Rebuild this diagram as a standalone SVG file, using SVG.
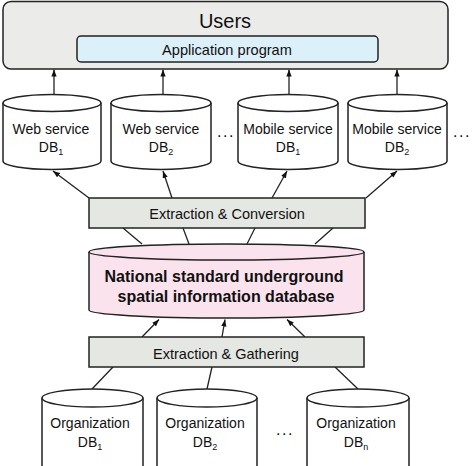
<svg xmlns="http://www.w3.org/2000/svg" width="474" height="466" viewBox="0 0 474 466">
<defs>
<style>
text{font-family:"Liberation Sans",Arial,sans-serif;fill:#111;text-anchor:middle}
.cyl{fill:#fff;stroke:#222;stroke-width:1.5}
.box{stroke:#222;stroke-width:1.5}
.ln{stroke:#222;stroke-width:1.3;fill:none}
.lbl{font-size:14px}
.sub{font-size:9px}
.dots{font-size:16px;letter-spacing:1.5px}
</style>
<marker id="ah" viewBox="0 0 8 6" refX="8" refY="3" markerWidth="7" markerHeight="5.5" markerUnits="userSpaceOnUse" orient="auto">
<path d="M0,0 L8,3 L0,6 z" fill="#111"/>
</marker>
</defs>
<rect width="474" height="466" fill="#fff"/>

<g id="users">
<rect class="box" x="3" y="1.5" width="445" height="67.5" rx="8" fill="#ebebe9"/>
<text x="225" y="28" style="font-size:20px">Users</text>
</g>
<g id="app">
<rect class="box" x="77" y="36" width="301" height="26" rx="4" fill="#dcf0f9"/>
<text x="227" y="55" style="font-size:14.6px">Application program</text>
</g>

<g id="connectors">
<line class="ln" x1="54" y1="101" x2="54" y2="69.5" marker-end="url(#ah)"/>
<line class="ln" x1="163" y1="101" x2="163" y2="69.5" marker-end="url(#ah)"/>
<line class="ln" x1="289" y1="101" x2="289" y2="69.5" marker-end="url(#ah)"/>
<line class="ln" x1="397" y1="101" x2="397" y2="69.5" marker-end="url(#ah)"/>
<line class="ln" x1="89" y1="198" x2="53" y2="171" marker-end="url(#ah)"/>
<line class="ln" x1="172" y1="198" x2="163" y2="171" marker-end="url(#ah)"/>
<line class="ln" x1="272" y1="198" x2="287" y2="171" marker-end="url(#ah)"/>
<line class="ln" x1="366" y1="198" x2="397" y2="171" marker-end="url(#ah)"/>
<line class="ln" x1="123" y1="228" x2="142" y2="244"/>
<line class="ln" x1="183" y1="228" x2="189" y2="244"/>
<line class="ln" x1="255" y1="228" x2="247" y2="244"/>
<line class="ln" x1="333" y1="228" x2="315" y2="244"/>
<line class="ln" x1="142" y1="337" x2="159" y2="319.5" marker-end="url(#ah)"/>
<line class="ln" x1="222" y1="337" x2="225" y2="319.5" marker-end="url(#ah)"/>
<line class="ln" x1="305" y1="337" x2="287" y2="319.5" marker-end="url(#ah)"/>
<line class="ln" x1="113" y1="367" x2="92" y2="389"/>
<line class="ln" x1="212" y1="367" x2="207" y2="389"/>
<line class="ln" x1="335" y1="367" x2="358" y2="389"/>
</g>

<g id="web1">
<path class="cyl" d="M3,103 V161 A49,8.5 0 0 0 101,161 V103"/>
<ellipse class="cyl" cx="52" cy="103" rx="49" ry="8.5"/>
<text class="lbl" x="51" y="134">Web service</text>
<text class="lbl" x="51" y="152">DB<tspan class="sub" dy="3">1</tspan></text>
</g>
<g id="web2">
<path class="cyl" d="M111,103 V161 A50,8.5 0 0 0 211,161 V103"/>
<ellipse class="cyl" cx="161" cy="103" rx="50" ry="8.5"/>
<text class="lbl" x="161" y="134">Web service</text>
<text class="lbl" x="161" y="152">DB<tspan class="sub" dy="3">2</tspan></text>
</g>
<text class="dots" x="226" y="137">...</text>
<g id="mob1">
<path class="cyl" d="M238,103 V161 A50,8.5 0 0 0 338,161 V103"/>
<ellipse class="cyl" cx="288" cy="103" rx="50" ry="8.5"/>
<text class="lbl" x="288" y="134">Mobile service</text>
<text class="lbl" x="288" y="152">DB<tspan class="sub" dy="3">1</tspan></text>
</g>
<g id="mob2">
<path class="cyl" d="M348,103 V161 A49.5,8.5 0 0 0 447,161 V103"/>
<ellipse class="cyl" cx="397.5" cy="103" rx="49.5" ry="8.5"/>
<text class="lbl" x="397" y="134">Mobile service</text>
<text class="lbl" x="397" y="152">DB<tspan class="sub" dy="3">2</tspan></text>
</g>
<text class="dots" x="462" y="137">...</text>

<g id="conv">
<rect class="box" x="89" y="198" width="276" height="30" fill="#e4e7e2"/>
<text x="227" y="219" style="font-size:14.5px">Extraction &amp; Conversion</text>
</g>

<g id="national">
<path class="cyl" style="fill:#fbe3ee" d="M89,252 V310 A137.5,8 0 0 0 364,310 V252"/>
<ellipse class="cyl" style="fill:#fbe3ee" cx="226.5" cy="252" rx="137.5" ry="8"/>
<text x="224" y="282" style="font-size:16px;font-weight:bold">National standard underground</text>
<text x="226" y="302" style="font-size:16px;font-weight:bold">spatial information database</text>
</g>

<g id="gather">
<rect class="box" x="89" y="337" width="275" height="30" fill="#e4e7e2"/>
<text x="226" y="359" style="font-size:14.5px">Extraction &amp; Gathering</text>
</g>

<g id="org1">
<path class="cyl" d="M42,398 V480 H143 V398"/>
<ellipse class="cyl" cx="92.5" cy="398" rx="50.5" ry="9"/>
<text class="lbl" x="90" y="428">Organization</text>
<text class="lbl" x="90" y="447">DB<tspan class="sub" dy="3">1</tspan></text>
</g>
<g id="org2">
<path class="cyl" d="M157,398 V480 H257 V398"/>
<ellipse class="cyl" cx="207" cy="398" rx="50" ry="9"/>
<text class="lbl" x="205" y="428">Organization</text>
<text class="lbl" x="205" y="447">DB<tspan class="sub" dy="3">2</tspan></text>
</g>
<text class="dots" x="285" y="435">...</text>
<g id="orgn">
<path class="cyl" d="M307,398 V480 H409 V398"/>
<ellipse class="cyl" cx="358" cy="398" rx="51" ry="9"/>
<text class="lbl" x="356" y="428">Organization</text>
<text class="lbl" x="356" y="447">DB<tspan class="sub" dy="3">n</tspan></text>
</g>
</svg>
